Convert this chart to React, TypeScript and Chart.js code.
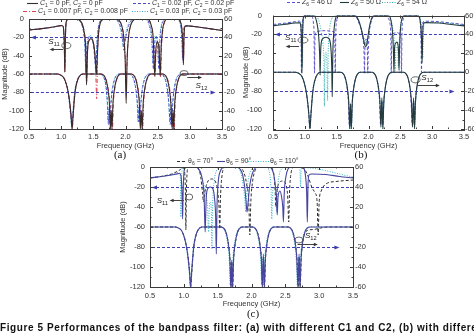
import React, { useEffect, useRef } from "react";
import { Chart, registerables } from "chart.js";

Chart.register(...registerables);

type Pt = [number, number];

const FREQ_TICKS: number[] = [0.5, 1.0, 1.5, 2.0, 2.5, 3.0, 3.5];
const S11_TICKS: number[] = [0, -20, -40, -60, -80, -100, -120];
const S12_TICKS: number[] = [60, 40, 20, 0, -20, -40, -60];

// ---------------- (a) C1 / C2 sweep ----------------
const A_S11_C0: Pt[] = [[0.5,-12],[0.7,-10.5],[0.9,-8.5],[1.0,-7.2],[1.025,-7.5],[1.04,-13],[1.05,-30],[1.057,-58],[1.064,-28],[1.072,-8],[1.085,-2],[1.1,-0.3],[1.13,0],[1.25,0],[1.29,-1.5],[1.33,-6],[1.36,-15],[1.38,-30],[1.395,-72],[1.41,-35],[1.43,-24],[1.46,-21.5],[1.49,-23.5],[1.515,-32],[1.535,-48],[1.55,-60],[1.565,-35],[1.585,-13],[1.61,-4],[1.64,-0.8],[1.68,0],[1.86,0],[1.9,-1.5],[1.94,-7],[1.97,-18],[1.995,-45],[2.01,-92],[2.025,-45],[2.05,-18],[2.08,-7],[2.12,-1.5],[2.16,0],[2.33,0],[2.37,-1.5],[2.4,-7],[2.43,-20],[2.455,-62],[2.47,-35],[2.495,-25],[2.52,-32],[2.54,-62],[2.555,-30],[2.58,-10],[2.61,-2.5],[2.65,0],[2.82,0],[2.85,-2],[2.875,-10],[2.89,-25],[2.9,-50],[2.91,-20],[2.925,-8],[2.96,-7.5],[3.1,-8.5],[3.3,-10.5],[3.5,-12.5]];
const A_S11_C007: Pt[] = [[0.5,-12],[0.7,-10.5],[0.9,-8.5],[1.0,-7.2],[1.025,-7.5],[1.04,-13],[1.05,-30],[1.057,-58],[1.064,-28],[1.072,-8],[1.085,-2],[1.1,-0.3],[1.13,0],[1.25,0],[1.29,-1.5],[1.33,-6],[1.36,-15],[1.38,-30],[1.395,-70],[1.41,-35],[1.43,-24],[1.46,-21.5],[1.49,-23.5],[1.515,-32],[1.535,-50],[1.552,-87],[1.567,-35],[1.587,-13],[1.61,-4],[1.64,-0.8],[1.68,0],[1.86,0],[1.9,-1.5],[1.94,-7],[1.97,-18],[1.995,-40],[2.012,-70],[2.027,-40],[2.05,-18],[2.08,-7],[2.12,-1.5],[2.16,0],[2.33,0],[2.37,-1.5],[2.4,-7],[2.43,-20],[2.46,-63],[2.475,-35],[2.5,-25],[2.525,-32],[2.545,-63],[2.56,-30],[2.585,-10],[2.615,-2.5],[2.65,0],[2.82,0],[2.85,-2],[2.875,-10],[2.89,-25],[2.9,-48],[2.91,-20],[2.925,-8],[2.96,-7.5],[3.1,-8.5],[3.3,-10.5],[3.5,-12.5]];
const A_S11_C02: Pt[] = [[0.5,-12],[0.7,-10.5],[0.9,-8.5],[1.0,-7],[1.025,-7.5],[1.04,-14],[1.05,-35],[1.055,-55],[1.062,-28],[1.072,-8],[1.085,-2],[1.1,-0.3],[1.13,0],[1.24,0],[1.28,-1.5],[1.32,-6],[1.35,-15],[1.37,-30],[1.385,-60],[1.4,-32],[1.42,-22],[1.45,-19],[1.48,-21],[1.505,-30],[1.525,-45],[1.54,-58],[1.555,-30],[1.575,-12],[1.6,-3.5],[1.63,-0.8],[1.67,0],[1.84,0],[1.88,-2],[1.92,-8],[1.95,-18],[1.975,-34],[1.99,-26],[2.01,-18],[2.04,-9],[2.08,-3],[2.12,-0.5],[2.15,0],[2.31,0],[2.35,-2],[2.38,-8],[2.41,-20],[2.435,-55],[2.45,-30],[2.475,-20],[2.5,-28],[2.52,-55],[2.535,-25],[2.56,-8],[2.6,-1.5],[2.64,0],[2.81,0],[2.84,-2],[2.865,-10],[2.88,-25],[2.89,-45],[2.9,-20],[2.915,-8],[2.96,-7.5],[3.1,-8.5],[3.3,-10.5],[3.5,-12.5]];
const A_S11_C03: Pt[] = [[0.5,-12],[0.7,-10.5],[0.9,-8.5],[1.0,-7],[1.025,-7.5],[1.04,-15],[1.05,-38],[1.055,-52],[1.062,-28],[1.072,-8],[1.085,-2],[1.1,-0.3],[1.13,0],[1.24,0],[1.28,-1.5],[1.32,-6],[1.35,-15],[1.37,-30],[1.382,-55],[1.397,-30],[1.42,-21],[1.45,-18],[1.48,-20],[1.505,-28],[1.525,-42],[1.537,-52],[1.552,-28],[1.572,-11],[1.6,-3],[1.63,-0.6],[1.67,0],[1.83,0],[1.87,-2],[1.91,-8],[1.94,-18],[1.965,-30],[1.98,-24],[2.0,-16],[2.03,-8],[2.07,-2.5],[2.11,-0.5],[2.14,0],[2.3,0],[2.34,-2],[2.37,-8],[2.4,-20],[2.428,-48],[2.443,-28],[2.47,-18],[2.495,-25],[2.513,-48],[2.53,-22],[2.555,-7],[2.595,-1.2],[2.63,0],[2.8,0],[2.83,-2],[2.86,-10],[2.875,-25],[2.885,-42],[2.895,-18],[2.912,-8],[2.96,-7.5],[3.1,-8.5],[3.3,-10.5],[3.5,-12.5]];

const A_S12_C0: Pt[] = [[0.5,0],[0.94,0],[0.99,-1],[1.04,-4],[1.08,-11],[1.11,-20],[1.135,-32],[1.155,-46],[1.17,-60],[1.185,-46],[1.2,-32],[1.22,-18],[1.25,-8],[1.28,-3],[1.31,-0.7],[1.34,0],[1.62,0],[1.655,-1],[1.685,-4],[1.71,-10],[1.73,-18],[1.75,-32],[1.765,-60],[1.778,-40],[1.79,-60],[1.805,-32],[1.825,-18],[1.845,-10],[1.87,-4],[1.9,-1],[1.93,0],[2.09,0],[2.12,-1],[2.15,-4],[2.175,-10],[2.195,-18],[2.215,-32],[2.23,-60],[2.245,-40],[2.26,-60],[2.275,-32],[2.295,-18],[2.315,-10],[2.34,-4],[2.37,-1],[2.4,0],[2.58,0],[2.61,-1],[2.64,-4],[2.665,-10],[2.685,-18],[2.705,-32],[2.725,-60],[2.738,-40],[2.75,-60],[2.765,-32],[2.785,-18],[2.805,-10],[2.83,-4],[2.86,-1],[2.9,0],[3.5,0]];
const A_S12_C007: Pt[] = [[0.5,0],[0.94,0],[0.99,-1],[1.04,-4],[1.08,-11],[1.11,-20],[1.135,-32],[1.155,-46],[1.172,-60],[1.187,-46],[1.2,-32],[1.22,-18],[1.25,-8],[1.28,-3],[1.31,-0.7],[1.34,0],[1.62,0],[1.655,-1],[1.685,-4],[1.715,-10],[1.735,-18],[1.755,-32],[1.772,-60],[1.785,-40],[1.798,-60],[1.812,-32],[1.83,-18],[1.85,-10],[1.875,-4],[1.905,-1],[1.935,0],[2.09,0],[2.12,-1],[2.155,-4],[2.18,-10],[2.2,-18],[2.22,-32],[2.24,-60],[2.253,-40],[2.267,-60],[2.282,-32],[2.3,-18],[2.32,-10],[2.345,-4],[2.375,-1],[2.405,0],[2.58,0],[2.61,-1],[2.645,-4],[2.67,-10],[2.69,-18],[2.71,-32],[2.732,-60],[2.745,-40],[2.758,-60],[2.772,-32],[2.79,-18],[2.81,-10],[2.835,-4],[2.865,-1],[2.9,0],[3.5,0]];
const A_S12_C02: Pt[] = [[0.5,0],[0.94,0],[0.99,-1],[1.04,-4],[1.08,-11],[1.11,-20],[1.13,-32],[1.15,-46],[1.165,-58],[1.18,-46],[1.195,-32],[1.215,-18],[1.245,-8],[1.275,-3],[1.305,-0.7],[1.34,0],[1.6,0],[1.635,-1],[1.665,-4],[1.69,-10],[1.705,-18],[1.72,-32],[1.735,-55],[1.748,-38],[1.76,-55],[1.775,-32],[1.795,-18],[1.815,-10],[1.84,-4],[1.87,-1],[1.91,0],[2.06,0],[2.09,-1],[2.12,-4],[2.145,-10],[2.165,-18],[2.185,-32],[2.2,-52],[2.213,-36],[2.225,-52],[2.24,-32],[2.26,-18],[2.28,-10],[2.305,-4],[2.335,-1],[2.37,0],[2.55,0],[2.58,-1],[2.61,-4],[2.635,-10],[2.655,-18],[2.675,-32],[2.695,-55],[2.708,-38],[2.72,-55],[2.735,-32],[2.755,-18],[2.775,-10],[2.8,-4],[2.83,-1],[2.87,0],[3.5,0]];
const A_S12_C03: Pt[] = [[0.5,0],[0.94,0],[0.99,-1],[1.04,-4],[1.08,-11],[1.105,-20],[1.128,-32],[1.148,-46],[1.163,-56],[1.178,-46],[1.193,-32],[1.213,-18],[1.243,-8],[1.273,-3],[1.303,-0.7],[1.34,0],[1.6,0],[1.63,-1],[1.66,-4],[1.685,-10],[1.7,-18],[1.715,-32],[1.73,-52],[1.743,-36],[1.755,-52],[1.77,-32],[1.79,-18],[1.81,-10],[1.835,-4],[1.865,-1],[1.9,0],[2.05,0],[2.08,-1],[2.11,-4],[2.14,-10],[2.16,-18],[2.18,-32],[2.195,-52],[2.208,-36],[2.22,-52],[2.235,-32],[2.255,-18],[2.275,-10],[2.3,-4],[2.33,-1],[2.36,0],[2.54,0],[2.57,-1],[2.6,-4],[2.63,-10],[2.65,-18],[2.67,-32],[2.69,-52],[2.703,-36],[2.715,-52],[2.73,-32],[2.75,-18],[2.77,-10],[2.795,-4],[2.825,-1],[2.86,0],[3.5,0]];

// ---------------- (b) Z6 sweep ----------------
const B_S11_Z50: Pt[] = [[0.5,-11],[0.7,-9.2],[0.85,-8],[0.92,-7.8],[0.935,-10],[0.947,-25],[0.955,-61],[0.963,-25],[0.972,-6],[0.985,-1],[1.0,0],[1.14,0],[1.165,-2],[1.19,-8],[1.215,-20],[1.232,-40],[1.24,-63],[1.25,-35],[1.275,-25],[1.33,-23],[1.385,-25],[1.41,-35],[1.423,-55],[1.43,-86],[1.44,-40],[1.46,-14],[1.48,-4],[1.5,-0.5],[1.52,0],[1.79,0],[1.82,-2],[1.86,-8],[1.9,-18],[1.93,-28],[1.955,-33],[1.98,-28],[2.0,-18],[2.03,-7],[2.06,-1.5],[2.09,0],[2.31,0],[2.34,-2],[2.36,-8],[2.38,-20],[2.392,-38],[2.4,-60],[2.41,-34],[2.43,-29],[2.445,-28],[2.46,-30],[2.472,-38],[2.48,-58],[2.49,-30],[2.51,-9],[2.535,-2],[2.56,0],[2.77,0],[2.8,-2],[2.82,-10],[2.833,-25],[2.842,-50],[2.852,-20],[2.865,-8],[2.9,-7.5],[3.1,-8],[3.3,-9.5],[3.5,-11]];
const B_S11_Z46: Pt[] = [[0.5,-9.5],[0.7,-8],[0.85,-6.5],[0.91,-6],[0.93,-7],[0.94,-20],[0.948,-61],[0.956,-22],[0.966,-5],[0.98,-1],[0.995,0],[1.1,0],[1.12,-2],[1.135,-8],[1.145,-20],[1.152,-61],[1.16,-22],[1.19,-17],[1.32,-16],[1.45,-17],[1.47,-22],[1.478,-61],[1.486,-20],[1.5,-6],[1.515,-1],[1.535,0],[1.78,0],[1.81,-2],[1.85,-8],[1.9,-20],[1.93,-40],[1.937,-61],[1.945,-30],[1.962,-25],[1.98,-30],[1.988,-61],[1.995,-40],[2.01,-20],[2.04,-7],[2.07,-1.5],[2.1,0],[2.28,0],[2.31,-2],[2.335,-8],[2.35,-20],[2.358,-61],[2.366,-22],[2.39,-19],[2.44,-18],[2.49,-19],[2.51,-22],[2.518,-61],[2.526,-20],[2.54,-6],[2.555,-1],[2.575,0],[2.77,0],[2.8,-2],[2.815,-10],[2.826,-30],[2.832,-60],[2.84,-22],[2.855,-7],[2.9,-6],[3.1,-6.5],[3.3,-8],[3.5,-9.5]];
const B_S11_Z54: Pt[] = [[0.5,-10],[0.7,-8.5],[0.85,-7.2],[0.93,-7],[0.945,-10],[0.955,-25],[0.962,-55],[0.97,-22],[0.98,-5],[0.993,-1],[1.01,0],[1.17,0],[1.2,-2],[1.23,-8],[1.26,-18],[1.285,-30],[1.3,-50],[1.307,-96],[1.315,-50],[1.33,-39],[1.345,-45],[1.357,-90],[1.367,-40],[1.39,-14],[1.42,-4],[1.45,-1],[1.48,0],[1.79,0],[1.82,-2],[1.86,-8],[1.9,-17],[1.935,-25],[1.96,-28],[1.985,-24],[2.01,-15],[2.04,-6],[2.07,-1.5],[2.1,0],[2.31,0],[2.34,-2],[2.365,-8],[2.39,-18],[2.408,-32],[2.418,-58],[2.43,-36],[2.445,-33],[2.46,-36],[2.47,-55],[2.482,-30],[2.505,-9],[2.53,-2],[2.555,0],[2.78,0],[2.81,-2],[2.83,-10],[2.842,-25],[2.852,-45],[2.862,-20],[2.875,-8],[2.91,-7],[3.1,-7.5],[3.3,-8.5],[3.5,-10]];

const B_S12_Z50: Pt[] = [[0.5,0],[0.85,0],[0.9,-1],[0.95,-4],[0.99,-11],[1.02,-20],[1.045,-32],[1.065,-46],[1.08,-60],[1.095,-46],[1.11,-32],[1.13,-18],[1.16,-8],[1.19,-3],[1.22,-0.7],[1.25,0],[1.56,0],[1.595,-1],[1.625,-4],[1.65,-10],[1.67,-18],[1.69,-32],[1.705,-60],[1.718,-33],[1.73,-60],[1.745,-32],[1.765,-18],[1.785,-10],[1.81,-4],[1.84,-1],[1.87,0],[2.055,0],[2.085,-1],[2.115,-4],[2.14,-10],[2.16,-18],[2.18,-32],[2.195,-58],[2.21,-27],[2.225,-60],[2.24,-32],[2.26,-18],[2.28,-10],[2.305,-4],[2.335,-1],[2.365,0],[2.55,0],[2.58,-1],[2.61,-4],[2.635,-10],[2.655,-18],[2.675,-32],[2.692,-58],[2.708,-27],[2.722,-60],[2.737,-32],[2.755,-18],[2.775,-10],[2.8,-4],[2.83,-1],[2.87,0],[3.5,0]];
const B_S12_Z46: Pt[] = [[0.5,0],[0.85,0],[0.9,-1],[0.95,-4],[0.99,-11],[1.02,-20],[1.043,-32],[1.063,-46],[1.078,-60],[1.093,-46],[1.108,-32],[1.128,-18],[1.158,-8],[1.188,-3],[1.218,-0.7],[1.25,0],[1.56,0],[1.592,-1],[1.622,-4],[1.647,-10],[1.667,-18],[1.685,-32],[1.7,-57],[1.715,-35],[1.73,-57],[1.745,-32],[1.765,-18],[1.785,-10],[1.81,-4],[1.84,-1],[1.87,0],[2.055,0],[2.085,-1],[2.115,-4],[2.138,-10],[2.158,-18],[2.175,-32],[2.19,-56],[2.208,-30],[2.225,-56],[2.24,-32],[2.26,-18],[2.28,-10],[2.305,-4],[2.335,-1],[2.365,0],[2.55,0],[2.58,-1],[2.61,-4],[2.633,-10],[2.653,-18],[2.67,-32],[2.687,-56],[2.705,-30],[2.722,-56],[2.737,-32],[2.755,-18],[2.775,-10],[2.8,-4],[2.83,-1],[2.87,0],[3.5,0]];
const B_S12_Z54: Pt[] = [[0.5,0],[0.85,0],[0.9,-1],[0.95,-4],[0.99,-11],[1.02,-20],[1.047,-32],[1.067,-46],[1.082,-60],[1.097,-46],[1.112,-32],[1.132,-18],[1.162,-8],[1.192,-3],[1.222,-0.7],[1.25,0],[1.56,0],[1.597,-1],[1.627,-4],[1.652,-10],[1.672,-18],[1.692,-32],[1.708,-60],[1.72,-38],[1.732,-60],[1.747,-32],[1.767,-18],[1.787,-10],[1.812,-4],[1.842,-1],[1.87,0],[2.055,0],[2.085,-1],[2.115,-4],[2.142,-10],[2.162,-18],[2.182,-32],[2.198,-55],[2.212,-30],[2.227,-60],[2.242,-32],[2.262,-18],[2.282,-10],[2.307,-4],[2.337,-1],[2.365,0],[2.55,0],[2.58,-1],[2.61,-4],[2.637,-10],[2.657,-18],[2.677,-32],[2.695,-55],[2.71,-30],[2.725,-60],[2.74,-32],[2.758,-18],[2.777,-10],[2.802,-4],[2.832,-1],[2.87,0],[3.5,0]];

// ---------------- (c) theta6 sweep ----------------
const C_S11_T90: Pt[] = [[0.5,-11],[0.7,-9.2],[0.88,-7.2],[0.93,-6.5],[0.95,-7],[0.965,-14],[0.975,-30],[0.982,-52],[0.99,-25],[1.0,-7],[1.015,-1.5],[1.03,-0.3],[1.06,0],[1.17,0],[1.21,-1.5],[1.25,-6],[1.28,-15],[1.3,-30],[1.315,-65],[1.33,-32],[1.35,-22],[1.39,-20],[1.43,-22],[1.455,-32],[1.47,-50],[1.48,-87],[1.49,-40],[1.51,-14],[1.54,-4],[1.57,-0.8],[1.61,0],[1.79,0],[1.83,-2],[1.87,-8],[1.9,-20],[1.92,-35],[1.935,-45],[1.95,-35],[1.975,-18],[2.01,-7],[2.05,-1.5],[2.09,0],[2.26,0],[2.3,-2],[2.33,-8],[2.355,-20],[2.37,-32],[2.38,-48],[2.392,-30],[2.42,-24],[2.445,-30],[2.462,-40],[2.472,-55],[2.483,-28],[2.51,-9],[2.54,-2],[2.58,0],[2.75,0],[2.78,-2],[2.8,-10],[2.815,-25],[2.825,-55],[2.835,-18],[2.85,-8],[2.89,-7],[3.1,-7.5],[3.3,-9.5],[3.5,-11]];
const C_S11_T70: Pt[] = [[0.5,-11],[0.7,-9],[0.82,-7],[0.9,-4.5],[0.95,-2.5],[0.98,-1],[1.0,-1.5],[1.015,-8],[1.025,-30],[1.03,-63],[1.038,-25],[1.048,-6],[1.06,-1],[1.08,0],[1.19,0],[1.22,-2],[1.25,-10],[1.275,-25],[1.29,-35],[1.31,-25],[1.35,-15],[1.41,-12],[1.47,-15],[1.5,-24],[1.52,-40],[1.53,-62],[1.542,-30],[1.565,-8],[1.59,-1.5],[1.62,0],[1.82,0],[1.86,-2],[1.9,-8],[1.93,-18],[1.96,-35],[1.975,-68],[1.99,-35],[2.015,-15],[2.045,-5],[2.08,-1],[2.12,0],[2.28,0],[2.31,-2],[2.335,-10],[2.35,-25],[2.36,-40],[2.375,-25],[2.41,-16],[2.46,-14],[2.51,-18],[2.535,-30],[2.55,-55],[2.562,-25],[2.585,-6],[2.61,-1],[2.64,0],[2.74,0],[2.77,-2],[2.8,-4],[2.84,-10],[2.89,-20],[2.94,-26],[2.97,-35],[2.985,-68],[3.0,-35],[3.03,-24],[3.1,-17],[3.25,-14.5],[3.5,-13]];
const C_S11_T110: Pt[] = [[0.5,-11],[0.7,-9],[0.85,-7],[0.92,-5.5],[0.94,-6],[0.95,-15],[0.957,-50],[0.965,-15],[0.975,-3],[0.99,-0.5],[1.01,0],[1.17,0],[1.21,-2],[1.25,-7],[1.29,-16],[1.32,-26],[1.35,-40],[1.365,-65],[1.375,-42],[1.39,-35],[1.405,-42],[1.415,-82],[1.425,-40],[1.45,-14],[1.48,-4],[1.51,-1],[1.55,0],[1.78,0],[1.82,-2],[1.85,-8],[1.88,-20],[1.9,-32],[1.915,-45],[1.925,-30],[1.945,-16],[1.975,-6],[2.015,-1],[2.05,0],[2.22,0],[2.25,-2],[2.275,-10],[2.29,-25],[2.3,-52],[2.31,-28],[2.335,-20],[2.36,-26],[2.375,-45],[2.385,-24],[2.41,-8],[2.45,-1.5],[2.49,0],[2.7,0],[2.715,-2],[2.725,-20],[2.735,-2],[2.75,-0.5],[3.5,-10]];

const C_S12_T90: Pt[] = [[0.5,0],[0.87,0],[0.92,-1],[0.97,-4],[1.01,-11],[1.04,-20],[1.065,-32],[1.085,-46],[1.1,-60],[1.115,-46],[1.13,-32],[1.15,-18],[1.18,-8],[1.21,-3],[1.24,-0.7],[1.27,0],[1.55,0],[1.585,-1],[1.615,-4],[1.64,-10],[1.66,-18],[1.68,-32],[1.695,-60],[1.708,-33],[1.72,-60],[1.735,-32],[1.755,-18],[1.775,-10],[1.8,-4],[1.83,-1],[1.86,0],[2.02,0],[2.05,-1],[2.08,-4],[2.105,-10],[2.125,-18],[2.145,-32],[2.16,-60],[2.175,-27],[2.19,-60],[2.205,-32],[2.225,-18],[2.245,-10],[2.27,-4],[2.3,-1],[2.33,0],[2.545,0],[2.575,-1],[2.605,-4],[2.63,-10],[2.65,-18],[2.67,-32],[2.687,-60],[2.703,-27],[2.717,-60],[2.732,-32],[2.75,-18],[2.77,-10],[2.795,-4],[2.825,-1],[2.865,0],[3.5,0]];
const C_S12_T70: Pt[] = [[0.5,0],[0.87,0],[0.92,-1],[0.97,-4],[1.01,-11],[1.04,-20],[1.067,-32],[1.087,-46],[1.102,-60],[1.117,-46],[1.132,-32],[1.152,-18],[1.182,-8],[1.212,-3],[1.242,-0.7],[1.27,0],[1.55,0],[1.587,-1],[1.617,-4],[1.642,-10],[1.662,-18],[1.682,-32],[1.698,-60],[1.71,-35],[1.722,-60],[1.737,-32],[1.757,-18],[1.777,-10],[1.802,-4],[1.832,-1],[1.86,0],[2.02,0],[2.05,-1],[2.08,-4],[2.107,-10],[2.127,-18],[2.147,-32],[2.163,-60],[2.177,-30],[2.192,-60],[2.207,-32],[2.227,-18],[2.247,-10],[2.272,-4],[2.302,-1],[2.33,0],[2.545,0],[2.575,-1],[2.605,-4],[2.632,-10],[2.652,-18],[2.672,-32],[2.69,-60],[2.705,-30],[2.72,-60],[2.735,-32],[2.753,-18],[2.775,-9],[2.805,-4.5],[2.845,-3],[2.92,-2.5],[3.02,-1],[3.12,0],[3.5,0]];
const C_S12_T110: Pt[] = [[0.5,0],[0.87,0],[0.92,-1],[0.97,-4],[1.01,-11],[1.035,-20],[1.06,-32],[1.08,-46],[1.095,-60],[1.11,-46],[1.125,-32],[1.145,-18],[1.175,-8],[1.205,-3],[1.235,-0.7],[1.27,0],[1.54,0],[1.575,-1],[1.605,-4],[1.63,-10],[1.65,-18],[1.67,-32],[1.685,-58],[1.698,-35],[1.71,-58],[1.725,-32],[1.745,-18],[1.765,-10],[1.79,-4],[1.82,-1],[1.85,0],[2.01,0],[2.04,-1],[2.07,-4],[2.095,-10],[2.115,-18],[2.135,-32],[2.15,-58],[2.165,-30],[2.18,-58],[2.195,-32],[2.215,-18],[2.235,-10],[2.26,-4],[2.29,-1],[2.32,0],[2.535,0],[2.565,-1],[2.595,-4],[2.62,-10],[2.64,-18],[2.66,-32],[2.677,-58],[2.693,-30],[2.707,-58],[2.722,-32],[2.74,-18],[2.76,-10],[2.785,-4],[2.815,-1],[2.855,0],[3.5,0]];

// ---------------- labels ----------------
const A_LABELS = ["*C*_{1} = 0 pF, *C*_{2} = 0 pF", "*C*_{1} = 0.02 pF, *C*_{2} = 0.02 pF", "*C*_{1} = 0.007 pF, *C*_{2} = 0.008 pF", "*C*_{1} = 0.03 pF, *C*_{2} = 0.03 pF"];
const B_LABELS = ["*Z*_{6} = 46 Ω", "*Z*_{6} = 50 Ω", "*Z*_{6} = 54 Ω"];
const C_LABELS = ["θ_{6} = 70°", "θ_{6} = 90°", "θ_{6} = 110°"];
const FIG_CAPTION = "Figure 5  Performances of the bandpass filter: (a) with different C1 and C2, (b) with different Z6, (c) with different θ6";

const FONT = "'Liberation Sans', Arial, sans-serif";
const SERIF = "'Liberation Serif', 'DejaVu Serif', serif";
const TXT = "#333333";
const AXIS = "#3a3a3a";
const REF = "#3c3cb4";

type Series = { s11: Pt[]; s12: Pt[]; color: string; dash: number[]; width: number };
type LegendItem = { label: string; color: string; dash: number[]; width: number; x1: number; x2: number; tx: number; y: number };
type Note = { tf: number; tdb: number; ef: number; edb: number; rx: number; ry: number; a1: number; a2: number; adb: number; label: string };
type Panel = {
  left: number; top: number; w: number; h: number;
  area: { l: number; r: number; t: number; b: number };
  yTitlePad: number; yLabelPad: number; y2LabelPad: number; xLabelPad: number;
  series: Series[]; legend: LegendItem[];
  caption: { text: string; x: number; y: number };
  notes: Note[];
  refTop: [number, number]; refBot: [number, number];
};

const SOLID: number[] = [];
const DASH = [3, 2];
const DASHDOT = [4, 2, 1, 2];
const DOT = [1, 1.5];

const PANEL_A: Panel = {
  left: 0, top: 0, w: 240, h: 165,
  area: { l: 29, r: 222, t: 19, b: 129 },
  yTitlePad: 0, yLabelPad: 5, y2LabelPad: 2, xLabelPad: 3,
  series: [
    { s11: A_S11_C0, s12: A_S12_C0, color: "#3a2b2b", dash: SOLID, width: 1.1 },
    { s11: A_S11_C007, s12: A_S12_C007, color: "#e0404e", dash: DASHDOT, width: 1 },
    { s11: A_S11_C02, s12: A_S12_C02, color: "#4a4ac4", dash: DASH, width: 1 },
    { s11: A_S11_C03, s12: A_S12_C03, color: "#39a9cc", dash: DOT, width: 1 },
  ],
  legend: [
    { label: A_LABELS[0], color: "#3a2b2b", dash: SOLID, width: 1.1, x1: 27, x2: 38, tx: 40, y: 3 },
    { label: A_LABELS[1], color: "#4a4ac4", dash: DASH, width: 1, x1: 133, x2: 150, tx: 152, y: 3 },
    { label: A_LABELS[2], color: "#e0404e", dash: DASHDOT, width: 1, x1: 23, x2: 36, tx: 38, y: 11 },
    { label: A_LABELS[3], color: "#39a9cc", dash: DOT, width: 1, x1: 132, x2: 148, tx: 150, y: 11 },
  ],
  caption: { text: "(a)", x: 120, y: 155 },
  notes: [
    { label: "*S*_{11}", tf: 0.8, tdb: -25, ef: 1.08, edb: -29, rx: 4.5, ry: 3, a1: 1.03, a2: 0.82, adb: -32.7 },
    { label: "*S*_{12}", tf: 3.09, tdb: -73, ef: 2.91, edb: -59, rx: 4, ry: 2.5, a1: 2.96, a2: 3.19, adb: -63.5 },
  ],
  refTop: [0.53, 3.45], refBot: [0.53, 3.4],
};

const PANEL_B: Panel = {
  left: 234, top: 0, w: 240, h: 165,
  area: { l: 39, r: 230, t: 9, b: 129 },
  yTitlePad: 7.5, yLabelPad: 11, y2LabelPad: 1, xLabelPad: 3,
  series: [
    { s11: B_S11_Z50, s12: B_S12_Z50, color: "#243a3c", dash: SOLID, width: 1.1 },
    { s11: B_S11_Z46, s12: B_S12_Z46, color: "#5a4fcf", dash: DASH, width: 1 },
    { s11: B_S11_Z54, s12: B_S12_Z54, color: "#2fb0b0", dash: DOT, width: 1 },
  ],
  legend: [
    { label: B_LABELS[0], color: "#5a4fcf", dash: DASH, width: 1, x1: 53, x2: 67, tx: 68, y: 2 },
    { label: B_LABELS[1], color: "#243a3c", dash: SOLID, width: 1.1, x1: 106, x2: 115, tx: 117, y: 2 },
    { label: B_LABELS[2], color: "#2fb0b0", dash: DOT, width: 1, x1: 148, x2: 162, tx: 163, y: 2 },
  ],
  caption: { text: "(b)", x: 127, y: 155 },
  notes: [
    { label: "*S*_{11}", tf: 0.69, tdb: -24, ef: 0.97, edb: -26, rx: 5, ry: 3, a1: 0.91, a2: 0.7, adb: -32 },
    { label: "*S*_{12}", tf: 2.83, tdb: -66, ef: 2.74, edb: -68, rx: 4.5, ry: 3, a1: 2.76, a2: 3.12, adb: -74 },
  ],
  refTop: [0.53, 3.45], refBot: [0.53, 3.35],
};

const PANEL_C: Panel = {
  left: 110, top: 150, w: 264, h: 183,
  area: { l: 40, r: 243, t: 17, b: 137 },
  yTitlePad: 8, yLabelPad: 5, y2LabelPad: 2, xLabelPad: 4.5,
  series: [
    { s11: C_S11_T90, s12: C_S12_T90, color: "#46449e", dash: SOLID, width: 1.1 },
    { s11: C_S11_T70, s12: C_S12_T70, color: "#2e2e2e", dash: DASH, width: 1 },
    { s11: C_S11_T110, s12: C_S12_T110, color: "#35b6c6", dash: DOT, width: 1 },
  ],
  legend: [
    { label: C_LABELS[0], color: "#2e2e2e", dash: DASH, width: 1, x1: 67, x2: 77, tx: 78, y: 11 },
    { label: C_LABELS[1], color: "#46449e", dash: SOLID, width: 1.1, x1: 107, x2: 115, tx: 116, y: 11 },
    { label: C_LABELS[2], color: "#35b6c6", dash: DOT, width: 1, x1: 138, x2: 159, tx: 160, y: 11 },
  ],
  caption: { text: "(c)", x: 143, y: 164 },
  notes: [
    { label: "*S*_{11}", tf: 0.6, tdb: -34, ef: 1.08, edb: -30, rx: 3.5, ry: 3, a1: 1.0, a2: 0.79, adb: -32.5 },
    { label: "*S*_{12}", tf: 2.79, tdb: -69, ef: 2.7, edb: -73, rx: 4, ry: 3, a1: 2.68, a2: 2.98, adb: -77 },
  ],
  refTop: [0.53, 3.45], refBot: [0.53, 3.3],
};

type Seg = { t: string; it?: boolean; sub?: boolean };
function parseRich(s: string): Seg[] {
  const out: Seg[] = [];
  let buf = "";
  let i = 0;
  const flush = () => { if (buf) { out.push({ t: buf }); buf = ""; } };
  while (i < s.length) {
    const c = s[i];
    if (c === "*") {
      flush();
      const j = s.indexOf("*", i + 1);
      out.push({ t: s.slice(i + 1, j), it: true });
      i = j + 1;
    } else if (c === "_" && s[i + 1] === "{") {
      flush();
      const j = s.indexOf("}", i);
      out.push({ t: s.slice(i + 2, j), sub: true });
      i = j + 1;
    } else { buf += c; i++; }
  }
  flush();
  return out;
}

function drawRich(ctx: CanvasRenderingContext2D, text: string, x: number, y: number, size: number, color: string) {
  ctx.fillStyle = color;
  ctx.textBaseline = "middle";
  ctx.textAlign = "left";
  for (const sg of parseRich(text)) {
    const fs = sg.sub ? size * 0.72 : size;
    ctx.font = `${sg.it ? "italic " : ""}${fs}px ${FONT}`;
    ctx.fillText(sg.t, x, y + (sg.sub ? size * 0.3 : 0));
    x += ctx.measureText(sg.t).width;
  }
}

function arrowHead(ctx: CanvasRenderingContext2D, x: number, y: number, dir: number, len: number, half: number) {
  ctx.beginPath();
  ctx.moveTo(x, y);
  ctx.lineTo(x - dir * len, y - half);
  ctx.lineTo(x - dir * len, y + half);
  ctx.closePath();
  ctx.fill();
}

function decoPlugin(p: Panel) {
  return {
    id: "deco",
    afterDatasetsDraw(chart: any) {
      const ctx: CanvasRenderingContext2D = chart.ctx;
      const { left, right, top, bottom } = chart.chartArea;
      const xs = chart.scales.x;
      const ys = chart.scales.y;
      const X = (f: number) => xs.getPixelForValue(f);
      const Y = (d: number) => ys.getPixelForValue(d);
      ctx.save();
      ctx.strokeStyle = REF; ctx.fillStyle = REF; ctx.lineWidth = 1;
      ctx.setLineDash([3, 2]);
      const yt = Math.round(Y(-20)) + 0.5;
      ctx.beginPath(); ctx.moveTo(X(p.refTop[0]) + 4, yt); ctx.lineTo(X(p.refTop[1]), yt); ctx.stroke();
      const yb = Math.round(Y(-80)) + 0.5;
      ctx.beginPath(); ctx.moveTo(X(p.refBot[0]), yb); ctx.lineTo(X(p.refBot[1]) - 4, yb); ctx.stroke();
      ctx.setLineDash([]);
      arrowHead(ctx, X(p.refTop[0]), yt, -1, 5, 2);
      arrowHead(ctx, X(p.refBot[1]), yb, 1, 5, 2);
      for (const n of p.notes) {
        ctx.strokeStyle = "#444"; ctx.fillStyle = "#333"; ctx.lineWidth = 0.8;
        ctx.beginPath(); ctx.ellipse(X(n.ef), Y(n.edb), n.rx, n.ry, 0, 0, Math.PI * 2); ctx.stroke();
        const ay = Math.round(Y(n.adb)) + 0.5;
        const dir = n.a2 > n.a1 ? 1 : -1;
        ctx.lineWidth = 1;
        ctx.beginPath(); ctx.moveTo(X(n.a1), ay); ctx.lineTo(X(n.a2) - dir * 3, ay); ctx.stroke();
        arrowHead(ctx, X(n.a2), ay, dir, 4, 1.8);
        drawRich(ctx, n.label, X(n.tf), Y(n.tdb), 8, "#222");
      }
      ctx.strokeStyle = AXIS; ctx.lineWidth = 1; ctx.setLineDash([]);
      ctx.strokeRect(Math.round(left) + 0.5, Math.round(top) + 0.5, Math.round(right - left), Math.round(bottom - top));
      ctx.beginPath();
      for (let f = 0.5; f <= 3.5001; f += 0.25) {
        const major = Math.abs((f * 2) - Math.round(f * 2)) < 1e-6;
        const L = major ? 3 : 1.5;
        const x = Math.round(X(f)) + 0.5;
        ctx.moveTo(x, bottom); ctx.lineTo(x, bottom - L);
        ctx.moveTo(x, top); ctx.lineTo(x, top + L);
      }
      for (let d = -120; d <= 0; d += 10) {
        const major = d % 20 === 0;
        const L = major ? 3 : 1.5;
        const y = Math.round(Y(d)) + 0.5;
        ctx.moveTo(left, y); ctx.lineTo(left + L, y);
        ctx.moveTo(right, y); ctx.lineTo(right - L, y);
      }
      ctx.stroke();
      for (const it of p.legend) {
        ctx.strokeStyle = it.color; ctx.lineWidth = it.width; ctx.setLineDash(it.dash);
        ctx.beginPath(); ctx.moveTo(it.x1, it.y + 0.5); ctx.lineTo(it.x2, it.y + 0.5); ctx.stroke();
        ctx.setLineDash([]);
        drawRich(ctx, it.label, it.tx, it.y + 0.5, 7, TXT);
      }
      ctx.fillStyle = "#111";
      ctx.font = `11px ${SERIF}`;
      ctx.textAlign = "center"; ctx.textBaseline = "middle";
      ctx.fillText(p.caption.text, p.caption.x, p.caption.y);
      ctx.restore();
    },
  };
}

function buildConfig(p: Panel): any {
  const datasets: any[] = [];
  for (const s of p.series) {
    for (const [pts, axis] of [[s.s11, "y"], [s.s12, "y2"]] as [Pt[], string][]) {
      datasets.push({
        data: pts.map(([x, y]) => ({ x, y })),
        yAxisID: axis,
        borderColor: s.color,
        borderWidth: s.width,
        borderDash: s.dash,
        pointRadius: 0,
        fill: false,
        cubicInterpolationMode: "monotone",
      });
    }
  }
  const tickFont = { family: FONT, size: 7.5 };
  const grid = { display: false, drawTicks: false, tickLength: 0 };
  return {
    type: "line",
    data: { datasets },
    options: {
      animation: false,
      responsive: false,
      devicePixelRatio: 1,
      events: [],
      layout: { padding: { top: p.area.t, bottom: p.h - p.area.b - 22, left: 0, right: 0 } },
      plugins: { legend: { display: false }, tooltip: { enabled: false }, title: { display: false } },
      scales: {
        x: {
          type: "linear", min: 0.5, max: 3.5,
          grid, border: { display: false },
          afterBuildTicks: (s: any) => { s.ticks = FREQ_TICKS.map((v) => ({ value: v })); },
          ticks: { font: tickFont, color: TXT, padding: p.xLabelPad, maxRotation: 0, autoSkip: false, callback: (v: any) => Number(v).toFixed(1) },
          title: { display: true, text: "Frequency (GHz)", font: tickFont, color: TXT, padding: { top: 0, bottom: 0.5 } },
          afterFit: (s: any) => { s.height = 22; },
        },
        y: {
          type: "linear", position: "left", min: -120, max: 0,
          grid, border: { display: false },
          afterBuildTicks: (s: any) => { s.ticks = S11_TICKS.map((v) => ({ value: v })); },
          ticks: { font: tickFont, color: TXT, padding: p.yLabelPad, autoSkip: false, callback: (v: any) => String(v) },
          title: { display: true, text: "Magnitude (dB)", font: tickFont, color: TXT, padding: { top: p.yTitlePad, bottom: 0 } },
          afterFit: (s: any) => { s.width = p.area.l; },
        },
        y2: {
          type: "linear", position: "right", min: -60, max: 60,
          grid, border: { display: false },
          afterBuildTicks: (s: any) => { s.ticks = S12_TICKS.map((v) => ({ value: v })); },
          ticks: { font: tickFont, color: TXT, padding: p.y2LabelPad, autoSkip: false, callback: (v: any) => String(v) },
          afterFit: (s: any) => { s.width = p.w - p.area.r; },
        },
      },
    },
    plugins: [decoPlugin(p)],
  };
}

function ChartPanel({ panel }: { panel: Panel }) {
  const ref = useRef<HTMLCanvasElement>(null);
  useEffect(() => {
    const cv = ref.current;
    if (!cv) return;
    const chart = new Chart(cv, buildConfig(panel));
    return () => chart.destroy();
  }, [panel]);
  return (
    <canvas
      ref={ref}
      width={panel.w}
      height={panel.h}
      style={{ position: "absolute", left: panel.left, top: panel.top, width: panel.w, height: panel.h }}
    />
  );
}

export default function App() {
  return (
    <div style={{ position: "fixed", left: 0, top: 0, width: 474, height: 333, background: "#fff", overflow: "hidden" }}>
      <ChartPanel panel={PANEL_A} />
      <ChartPanel panel={PANEL_B} />
      <ChartPanel panel={PANEL_C} />
      <div style={{ position: "absolute", left: 0, top: 322, width: 474, whiteSpace: "nowrap", fontFamily: FONT, fontWeight: "bold", fontSize: 10, lineHeight: "12px", color: "#111", letterSpacing: 0.6 }}>
        {FIG_CAPTION}
      </div>
    </div>
  );
}
